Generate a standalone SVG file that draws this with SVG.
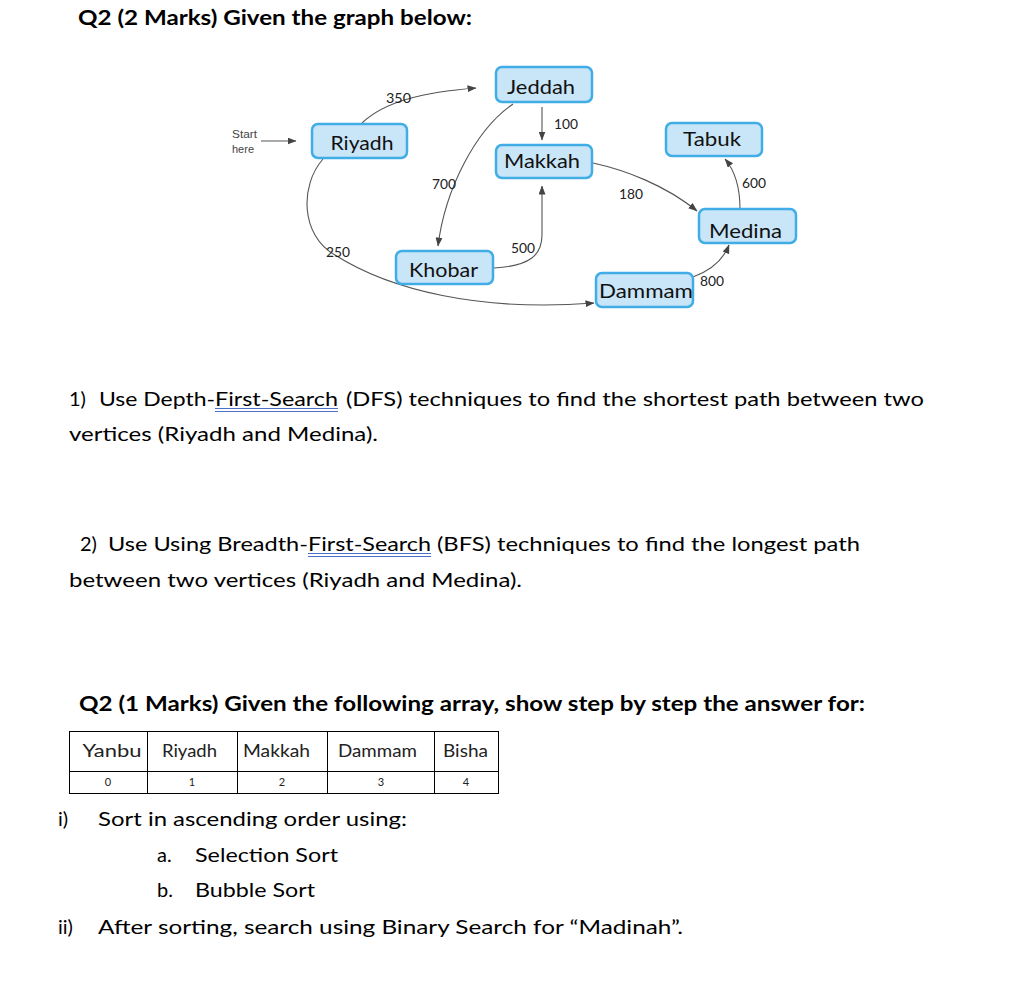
<svg xmlns="http://www.w3.org/2000/svg" width="1022" height="988" viewBox="0 0 1022 988">
<style>
.t{font-family:Lato,"Open Sans","Liberation Sans",sans-serif;fill:#000}
.h{font-size:21px;font-weight:bold}
.b{font-size:20px}
.n rect{fill:#c9e5f8;stroke:#41ade6;stroke-width:2.5}
.n text{font-family:Lato,"Open Sans","Liberation Sans",sans-serif;font-size:20px;fill:#111;text-anchor:middle}
.e path{fill:none;stroke:#555;stroke-width:1.1}
.lbl{font-family:Lato,"Open Sans","Liberation Sans",sans-serif;font-size:13px;fill:#222}
.ul{stroke:#4a6fc8;stroke-width:1}
.tb{fill:none;stroke:#000;stroke-width:1}
.th{font-family:Lato,"Open Sans","Liberation Sans",sans-serif;font-size:17px;fill:#222;text-anchor:middle}
.td{font-family:Lato,"Open Sans","Liberation Sans",sans-serif;font-size:11px;fill:#222;text-anchor:middle}
</style>
<defs>
<marker id="ar" markerUnits="userSpaceOnUse" markerWidth="9" markerHeight="7" refX="8.5" refY="3.5" orient="auto">
<path d="M0,0 L9,3.5 L0,7 Z" fill="#444"/>
</marker>
</defs>
<rect width="1022" height="988" fill="#fff"/>

<text class="t h" x="78" y="25" textLength="394" lengthAdjust="spacingAndGlyphs">Q2 (2 Marks) Given the graph below:</text>

<g id="start">
<text x="232" y="138" font-family="Liberation Sans,sans-serif" font-size="11.5" fill="#444" textLength="25" lengthAdjust="spacingAndGlyphs">Start</text>
<text x="232" y="153" font-family="Liberation Sans,sans-serif" font-size="11.5" fill="#444" textLength="22" lengthAdjust="spacingAndGlyphs">here</text>
</g>

<g id="connectors" class="e">
<path d="M261,141 L296,141" marker-end="url(#ar)"/>
<path d="M362,123 C385,101 425,92 476,88" marker-end="url(#ar)"/>
<path d="M513,104 C475,130 445,190 438,246" marker-end="url(#ar)"/>
<path d="M542,107 L542,140" marker-end="url(#ar)"/>
<path d="M494,268 C530,266 542,255 542,235 L542,186" marker-end="url(#ar)"/>
<path d="M323,159 C300,185 300,235 335,255 C390,290 480,312 594,303" marker-end="url(#ar)"/>
<path d="M593,163 C625,170 665,185 697,211" marker-end="url(#ar)"/>
<path d="M740,209 C740,188 736,172 725,159" marker-end="url(#ar)"/>
<path d="M693,277 C712,270 724,258 729,245" marker-end="url(#ar)"/>
<text class="lbl" x="386" y="103" textLength="25" lengthAdjust="spacingAndGlyphs">350</text>
<text class="lbl" x="432" y="189" textLength="24" lengthAdjust="spacingAndGlyphs">700</text>
<text class="lbl" x="554" y="129" textLength="24" lengthAdjust="spacingAndGlyphs">100</text>
<text class="lbl" x="511" y="253" textLength="24" lengthAdjust="spacingAndGlyphs">500</text>
<text class="lbl" x="326" y="257" textLength="24" lengthAdjust="spacingAndGlyphs">250</text>
<text class="lbl" x="619" y="199" textLength="24" lengthAdjust="spacingAndGlyphs">180</text>
<text class="lbl" x="742" y="188" textLength="24" lengthAdjust="spacingAndGlyphs">600</text>
<text class="lbl" x="700" y="286" textLength="24" lengthAdjust="spacingAndGlyphs">800</text>
</g>

<g id="riyadh" class="n"><rect x="312" y="124" width="95" height="34" rx="6"/><text x="362" y="150" textLength="63" lengthAdjust="spacingAndGlyphs">Riyadh</text></g>
<g id="jeddah" class="n"><rect x="496" y="67" width="96" height="35" rx="6"/><text x="541" y="94" textLength="68" lengthAdjust="spacingAndGlyphs">Jeddah</text></g>
<g id="makkah" class="n"><rect x="496" y="145" width="96" height="33" rx="6"/><text x="542" y="168" textLength="76" lengthAdjust="spacingAndGlyphs">Makkah</text></g>
<g id="khobar" class="n"><rect x="396" y="251" width="97" height="33" rx="6"/><text x="443.5" y="277" textLength="69" lengthAdjust="spacingAndGlyphs">Khobar</text></g>
<g id="tabuk" class="n"><rect x="666" y="123" width="96" height="33" rx="6"/><text x="712" y="146" textLength="58" lengthAdjust="spacingAndGlyphs">Tabuk</text></g>
<g id="medina" class="n"><rect x="699" y="209" width="97" height="34" rx="6"/><text x="745.5" y="238" textLength="73" lengthAdjust="spacingAndGlyphs">Medina</text></g>
<g id="dammam" class="n"><rect x="596" y="273" width="97" height="34" rx="6"/><text x="646" y="298" textLength="94" lengthAdjust="spacingAndGlyphs">Dammam</text></g>

<g id="para1" class="t b">
<text x="69" y="406">1)</text>
<text x="99" y="406" textLength="116" lengthAdjust="spacingAndGlyphs">Use Depth-</text>
<text x="215" y="406" textLength="123" lengthAdjust="spacingAndGlyphs">First-Search</text>
<text x="346" y="406" textLength="578" lengthAdjust="spacingAndGlyphs">(DFS) techniques to find the shortest path between two</text>
<text x="69" y="441" textLength="309" lengthAdjust="spacingAndGlyphs">vertices (Riyadh and Medina).</text>
<line class="ul" x1="215" y1="408.5" x2="338" y2="408.5"/>
<line class="ul" x1="215" y1="411.5" x2="338" y2="411.5"/>
</g>

<g id="para2" class="t b">
<text x="80" y="551">2)</text>
<text x="108" y="551" textLength="200" lengthAdjust="spacingAndGlyphs">Use Using Breadth-</text>
<text x="308" y="551" textLength="123" lengthAdjust="spacingAndGlyphs">First-Search</text>
<text x="437" y="551" textLength="423" lengthAdjust="spacingAndGlyphs">(BFS) techniques to find the longest path</text>
<text x="69" y="587" textLength="453" lengthAdjust="spacingAndGlyphs">between two vertices (Riyadh and Medina).</text>
<line class="ul" x1="308" y1="553.5" x2="431" y2="553.5"/>
<line class="ul" x1="308" y1="556.5" x2="431" y2="556.5"/>
</g>

<text class="t h" x="79" y="711" textLength="786" lengthAdjust="spacingAndGlyphs">Q2 (1 Marks) Given the following array, show step by step the answer for:</text>

<g id="table">
<rect class="tb" x="69.5" y="731.5" width="429" height="62"/>
<line class="tb" x1="69.5" y1="771.5" x2="498.5" y2="771.5"/>
<line class="tb" x1="147.5" y1="731.5" x2="147.5" y2="793.5"/>
<line class="tb" x1="237.5" y1="731.5" x2="237.5" y2="793.5"/>
<line class="tb" x1="327.5" y1="731.5" x2="327.5" y2="793.5"/>
<line class="tb" x1="434.5" y1="731.5" x2="434.5" y2="793.5"/>
<text class="th" x="112" y="757" textLength="59" lengthAdjust="spacingAndGlyphs">Yanbu</text>
<text class="th" x="189.5" y="757" textLength="55" lengthAdjust="spacingAndGlyphs">Riyadh</text>
<text class="th" x="276.5" y="757" textLength="67" lengthAdjust="spacingAndGlyphs">Makkah</text>
<text class="th" x="377.5" y="757" textLength="79" lengthAdjust="spacingAndGlyphs">Dammam</text>
<text class="th" x="465.5" y="757" textLength="45" lengthAdjust="spacingAndGlyphs">Bisha</text>
<text class="td" x="108" y="786">0</text>
<text class="td" x="192" y="786">1</text>
<text class="td" x="282" y="786">2</text>
<text class="td" x="381" y="786">3</text>
<text class="td" x="466" y="786">4</text>
</g>

<g id="list" class="t b">
<text x="58" y="826">i)</text>
<text x="98" y="826" textLength="309" lengthAdjust="spacingAndGlyphs">Sort in ascending order using:</text>
<text x="157" y="862">a.</text>
<text x="195" y="862" textLength="143" lengthAdjust="spacingAndGlyphs">Selection Sort</text>
<text x="157" y="897">b.</text>
<text x="195" y="897" textLength="120" lengthAdjust="spacingAndGlyphs">Bubble Sort</text>
<text x="58" y="934">ii)</text>
<text x="98" y="934" textLength="585" lengthAdjust="spacingAndGlyphs">After sorting, search using Binary Search for “Madinah”.</text>
</g>
</svg>
